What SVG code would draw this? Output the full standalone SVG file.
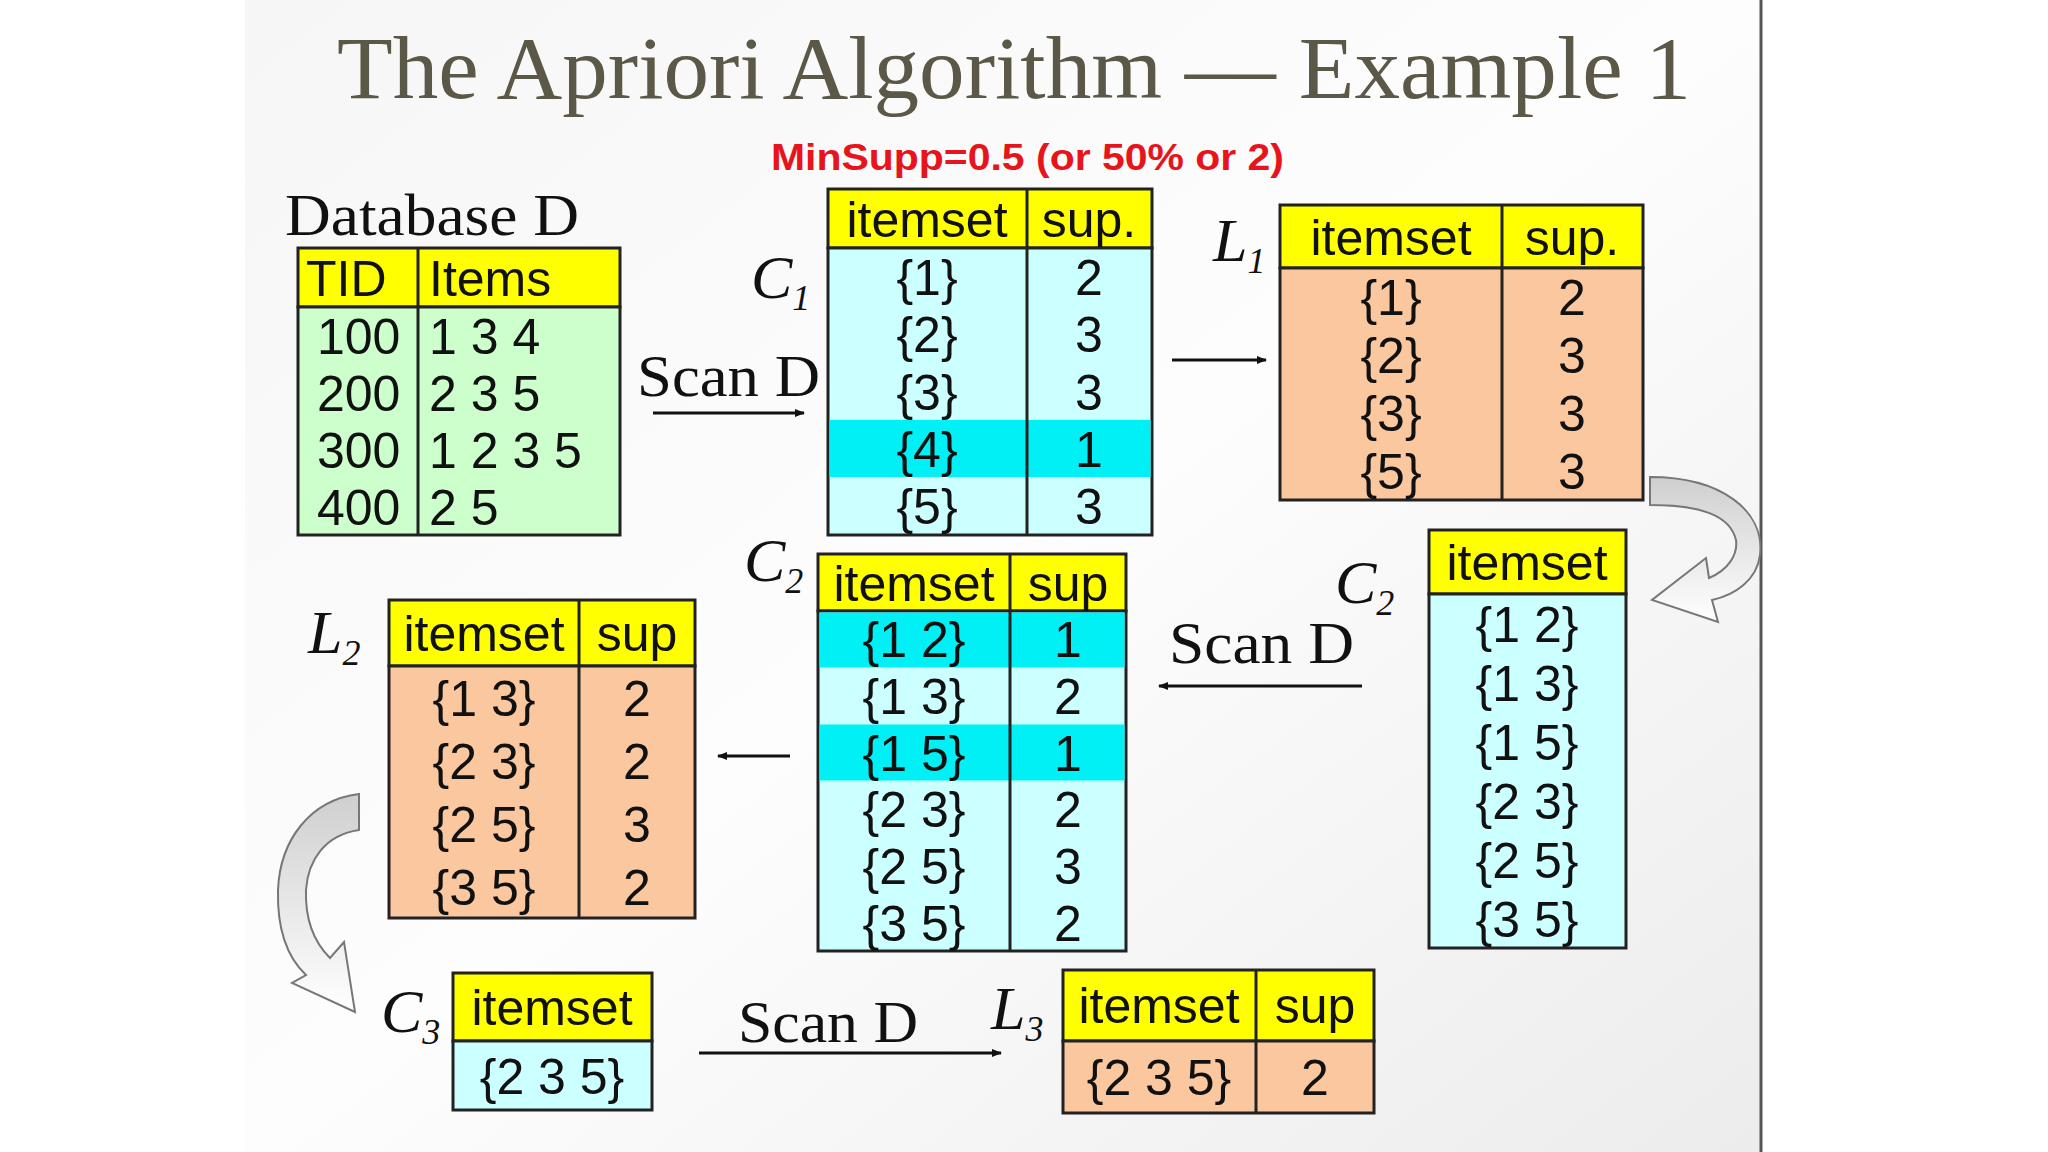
<svg xmlns="http://www.w3.org/2000/svg" width="2048" height="1152" viewBox="0 0 2048 1152">
<defs>
<style>
.c{stroke:#222;stroke-width:3}
.y{fill:#ffff00}.g{fill:#ccffcc}.lc{fill:#ccffff}.hc{fill:#00f0f5}.o{fill:#fac79f}
.t{font-family:"Liberation Sans",Arial,sans-serif;font-size:50px;fill:#111}
.m{text-anchor:middle}
.s{font-family:"Liberation Serif","Times New Roman",serif;font-size:60px;fill:#111}
.i{font-family:"Liberation Serif","Times New Roman",serif;font-style:italic;font-size:62px;fill:#111}
.sb{font-size:36px}
.ln{stroke:#111;stroke-width:3;fill:none;marker-end:url(#ah)}
.ca{fill:url(#cg);stroke:#777;stroke-width:2}
</style>
<marker id="ah" markerWidth="10" markerHeight="8" refX="9" refY="4" orient="auto" markerUnits="userSpaceOnUse" viewBox="0 0 10 8"><path d="M0,0L10,4L0,8Z" fill="#111"/></marker>
<linearGradient id="bg" x1="0" y1="0" x2="1" y2="1"><stop offset="0" stop-color="#f6f6f6"/><stop offset="0.5" stop-color="#fdfdfd"/><stop offset="1" stop-color="#ececec"/></linearGradient>
<linearGradient id="cg" x1="0" y1="0" x2="0" y2="1"><stop offset="0" stop-color="#cfcfcf"/><stop offset="1" stop-color="#ffffff"/></linearGradient>
</defs>
<rect width="2048" height="1152" fill="#fff"/>
<rect x="245" y="0" width="1516" height="1152" fill="url(#bg)"/>
<line x1="1761" y1="0" x2="1761" y2="1152" stroke="#555" stroke-width="3"/>
<text x="337" y="98" font-family="Liberation Serif,serif" font-size="88" fill="#5b5847" textLength="1354" lengthAdjust="spacingAndGlyphs">The Apriori Algorithm — Example 1</text>
<text x="771" y="170" font-family="Liberation Sans,sans-serif" font-weight="bold" font-size="36" fill="#e8141b" textLength="513" lengthAdjust="spacingAndGlyphs">MinSupp=0.5 (or 50% or 2)</text>

<g id="database">
<text class="s" x="285" y="235" textLength="294" lengthAdjust="spacingAndGlyphs">Database D</text>
<rect class="c y" x="298" y="248" width="322" height="59"/>
<rect class="c g" x="298" y="307" width="322" height="228"/>
<line class="c" x1="418" y1="248" x2="418" y2="535"/>
<text class="t" x="306" y="296">TID</text><text class="t" x="429" y="296">Items</text>
<text class="t" x="317" y="354">100</text><text class="t" x="429" y="354">1 3 4</text>
<text class="t" x="317" y="411">200</text><text class="t" x="429" y="411">2 3 5</text>
<text class="t" x="317" y="468">300</text><text class="t" x="429" y="468">1 2 3 5</text>
<text class="t" x="317" y="525">400</text><text class="t" x="429" y="525">2 5</text>
</g>

<g id="c1">
<text class="i" x="751" y="298">C<tspan class="sb" dy="12">1</tspan></text>
<rect class="c y" x="828" y="189" width="324" height="59"/>
<rect class="c lc" x="828" y="248" width="324" height="287"/>
<rect class="hc" x="829.5" y="420" width="321" height="57"/>
<line class="c" x1="1027" y1="189" x2="1027" y2="535"/>
<text class="t m" x="927" y="237">itemset</text><text class="t m" x="1089" y="237">sup.</text>
<text class="t m" x="927" y="295">{1}</text><text class="t m" x="1089" y="295">2</text>
<text class="t m" x="927" y="352">{2}</text><text class="t m" x="1089" y="352">3</text>
<text class="t m" x="927" y="410">{3}</text><text class="t m" x="1089" y="410">3</text>
<text class="t m" x="927" y="467">{4}</text><text class="t m" x="1089" y="467">1</text>
<text class="t m" x="927" y="524">{5}</text><text class="t m" x="1089" y="524">3</text>
</g>

<g id="l1">
<text class="i" x="1213" y="261">L<tspan class="sb" dy="12">1</tspan></text>
<rect class="c y" x="1280" y="205" width="363" height="63"/>
<rect class="c o" x="1280" y="268" width="363" height="232"/>
<line class="c" x1="1502" y1="205" x2="1502" y2="500"/>
<text class="t m" x="1391" y="255">itemset</text><text class="t m" x="1572" y="255">sup.</text>
<text class="t m" x="1391" y="315">{1}</text><text class="t m" x="1572" y="315">2</text>
<text class="t m" x="1391" y="373">{2}</text><text class="t m" x="1572" y="373">3</text>
<text class="t m" x="1391" y="431">{3}</text><text class="t m" x="1572" y="431">3</text>
<text class="t m" x="1391" y="489">{5}</text><text class="t m" x="1572" y="489">3</text>
</g>

<g id="c2r">
<text class="i" x="1335" y="603">C<tspan class="sb" dy="12">2</tspan></text>
<rect class="c y" x="1429" y="530" width="197" height="64"/>
<rect class="c lc" x="1429" y="594" width="197" height="354"/>
<text class="t m" x="1527" y="580">itemset</text>
<text class="t m" x="1527" y="642">{1 2}</text>
<text class="t m" x="1527" y="701">{1 3}</text>
<text class="t m" x="1527" y="760">{1 5}</text>
<text class="t m" x="1527" y="819">{2 3}</text>
<text class="t m" x="1527" y="878">{2 5}</text>
<text class="t m" x="1527" y="937">{3 5}</text>
</g>

<g id="c2m">
<text class="i" x="744" y="581">C<tspan class="sb" dy="12">2</tspan></text>
<rect class="c y" x="818" y="554" width="308" height="57"/>
<rect class="c lc" x="818" y="611" width="308" height="340"/>
<rect class="hc" x="819.5" y="612.5" width="305" height="55"/>
<rect class="hc" x="819.5" y="724.5" width="305" height="56"/>
<line class="c" x1="1010" y1="554" x2="1010" y2="951"/>
<text class="t m" x="914" y="601">itemset</text><text class="t m" x="1068" y="601">sup</text>
<text class="t m" x="914" y="657">{1 2}</text><text class="t m" x="1068" y="657">1</text>
<text class="t m" x="914" y="714">{1 3}</text><text class="t m" x="1068" y="714">2</text>
<text class="t m" x="914" y="771">{1 5}</text><text class="t m" x="1068" y="771">1</text>
<text class="t m" x="914" y="827">{2 3}</text><text class="t m" x="1068" y="827">2</text>
<text class="t m" x="914" y="884">{2 5}</text><text class="t m" x="1068" y="884">3</text>
<text class="t m" x="914" y="941">{3 5}</text><text class="t m" x="1068" y="941">2</text>
</g>

<g id="l2">
<text class="i" x="308" y="653">L<tspan class="sb" dy="12">2</tspan></text>
<rect class="c y" x="389" y="600" width="306" height="66"/>
<rect class="c o" x="389" y="666" width="306" height="252"/>
<line class="c" x1="579" y1="600" x2="579" y2="918"/>
<text class="t m" x="484" y="651">itemset</text><text class="t m" x="637" y="651">sup</text>
<text class="t m" x="484" y="716">{1 3}</text><text class="t m" x="637" y="716">2</text>
<text class="t m" x="484" y="779">{2 3}</text><text class="t m" x="637" y="779">2</text>
<text class="t m" x="484" y="842">{2 5}</text><text class="t m" x="637" y="842">3</text>
<text class="t m" x="484" y="905">{3 5}</text><text class="t m" x="637" y="905">2</text>
</g>

<g id="c3">
<text class="i" x="381" y="1032">C<tspan class="sb" dy="12">3</tspan></text>
<rect class="c y" x="453" y="973" width="199" height="68"/>
<rect class="c lc" x="453" y="1041" width="199" height="69"/>
<text class="t m" x="552" y="1025">itemset</text>
<text class="t m" x="552" y="1094">{2 3 5}</text>
</g>

<g id="l3">
<text class="i" x="991" y="1029">L<tspan class="sb" dy="12">3</tspan></text>
<rect class="c y" x="1063" y="970" width="311" height="71"/>
<rect class="c o" x="1063" y="1041" width="311" height="72"/>
<line class="c" x1="1256" y1="970" x2="1256" y2="1113"/>
<text class="t m" x="1159" y="1023">itemset</text><text class="t m" x="1315" y="1023">sup</text>
<text class="t m" x="1159" y="1095">{2 3 5}</text><text class="t m" x="1315" y="1095">2</text>
</g>

<g id="connectors">
<text class="s" x="637" y="396" textLength="183" lengthAdjust="spacingAndGlyphs">Scan D</text>
<line class="ln" x1="653" y1="413" x2="804" y2="413"/>
<line class="ln" x1="1172" y1="360" x2="1266" y2="360"/>
<text class="s" x="1169" y="663" textLength="185" lengthAdjust="spacingAndGlyphs">Scan D</text>
<line class="ln" x1="1362" y1="686" x2="1159" y2="686"/>
<line class="ln" x1="790" y1="756" x2="718" y2="756"/>
<text class="s" x="738" y="1042" textLength="180" lengthAdjust="spacingAndGlyphs">Scan D</text>
<line class="ln" x1="699" y1="1053" x2="1001" y2="1053"/>
<path class="ca" d="M1650,477 C1720,477 1765,510 1760,555 C1757,580 1735,595 1712,600 L1718,622 L1652,600 L1706,558 L1709,578 C1728,570 1738,555 1736,540 C1730,515 1700,505 1650,505 Z"/>
<path class="ca" d="M359,794 C310,800 280,840 278,890 C277,930 288,958 306,975 L292,983 L355,1012 L344,942 L330,958 C314,942 305,920 306,890 C308,860 325,835 359,830 Z"/>
</g>
</svg>
